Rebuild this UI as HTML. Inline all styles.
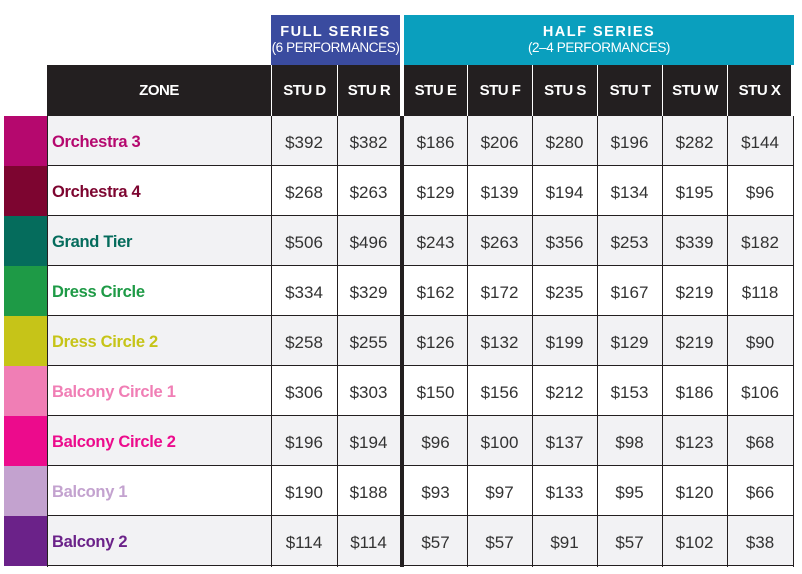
<!DOCTYPE html>
<html><head><meta charset="utf-8"><style>
body{margin:0;width:802px;height:574px;background:#fff;font-family:"Liberation Sans",sans-serif;position:relative;overflow:hidden}
div{position:absolute;box-sizing:border-box}
.hb{color:#fff;text-align:center;top:15px;height:50px;padding-top:9px;line-height:15px}
.hb b{font-size:14.5px;letter-spacing:1.5px}
.hb span{font-size:13.5px;display:block;letter-spacing:-0.4px}
.h{background:#231f20;color:#fff;font-weight:bold;font-size:15px;top:65px;height:51px;line-height:52px;text-align:center;letter-spacing:-0.5px}
.c{font-size:17px;color:#333;text-align:center;line-height:54px;height:50px}
.z{font-size:16.5px;font-weight:bold;line-height:52px;height:50px;padding-left:5px;letter-spacing:-0.3px}
.sw{left:4px;width:43px;height:50px}
.vl{background:#231f20;width:1px;top:116px;height:451px}
.hl{background:#231f20;height:1px;left:47px;width:747px}
</style></head><body>
<div class="hb" style="left:271px;width:129px;background:#3a4b9f"><b>FULL SERIES</b><span>(6 PERFORMANCES)</span></div>
<div class="hb" style="left:404px;width:390px;background:#0a9fbe"><b>HALF SERIES</b><span>(2–4 PERFORMANCES)</span></div>
<div class="h" style="left:47px;width:224px">ZONE</div>
<div class="h" style="left:272px;width:65px">STU D</div>
<div class="h" style="left:338px;width:62px">STU R</div>
<div class="h" style="left:404px;width:63px">STU E</div>
<div class="h" style="left:468px;width:64px">STU F</div>
<div class="h" style="left:533px;width:64px">STU S</div>
<div class="h" style="left:598px;width:64px">STU T</div>
<div class="h" style="left:663px;width:64px">STU W</div>
<div class="h" style="left:728px;width:63px">STU X</div>
<div id="rows"></div>
<script>
var d=[["Orchestra 3","#b5086e",[392,382,186,206,280,196,282,144]],
["Orchestra 4","#7d0530",[268,263,129,139,194,134,195,96]],
["Grand Tier","#056c5c",[506,496,243,263,356,253,339,182]],
["Dress Circle","#1e9a46",[334,329,162,172,235,167,219,118]],
["Dress Circle 2","#c6c418",[258,255,126,132,199,129,219,90]],
["Balcony Circle 1","#f07eb5",[306,303,150,156,212,153,186,106]],
["Balcony Circle 2","#ec0b8c",[196,194,96,100,137,98,123,68]],
["Balcony 1","#c3a2cf",[190,188,93,97,133,95,120,66]],
["Balcony 2","#6b2289",[114,114,57,57,91,57,102,38]]];
var cols=[[271,337],[337,400],[404,467],[467,532],[532,597],[597,662],[662,727],[727,793]];
var h="";
d.forEach(function(r,i){var y=116+i*50;var bg=i%2==0?"#f2f2f4":"#fff";
h+='<div style="left:47px;top:'+y+'px;width:747px;height:50px;background:'+bg+'"></div>';
h+='<div class="sw" style="top:'+y+'px;background:'+r[1]+'"></div>';
h+='<div class="z" style="left:47px;top:'+y+'px;color:'+r[1]+'">'+r[0]+'</div>';
r[2].forEach(function(v,j){h+='<div class="c" style="left:'+cols[j][0]+'px;top:'+y+'px;width:'+(cols[j][1]-cols[j][0])+'px">$'+v+'</div>';});
});
for(var i=1;i<=9;i++)h+='<div class="hl" style="top:'+(115+i*50)+'px"></div>';
[271,337,467,532,597,662,727,793].forEach(function(x){h+='<div class="vl" style="left:'+x+'px"></div>';});
h+='<div class="vl" style="left:400px;width:4px"></div>';
h+='<div class="vl" style="left:47px"></div>';
document.getElementById("rows").outerHTML=h;
</script>
</body></html>
